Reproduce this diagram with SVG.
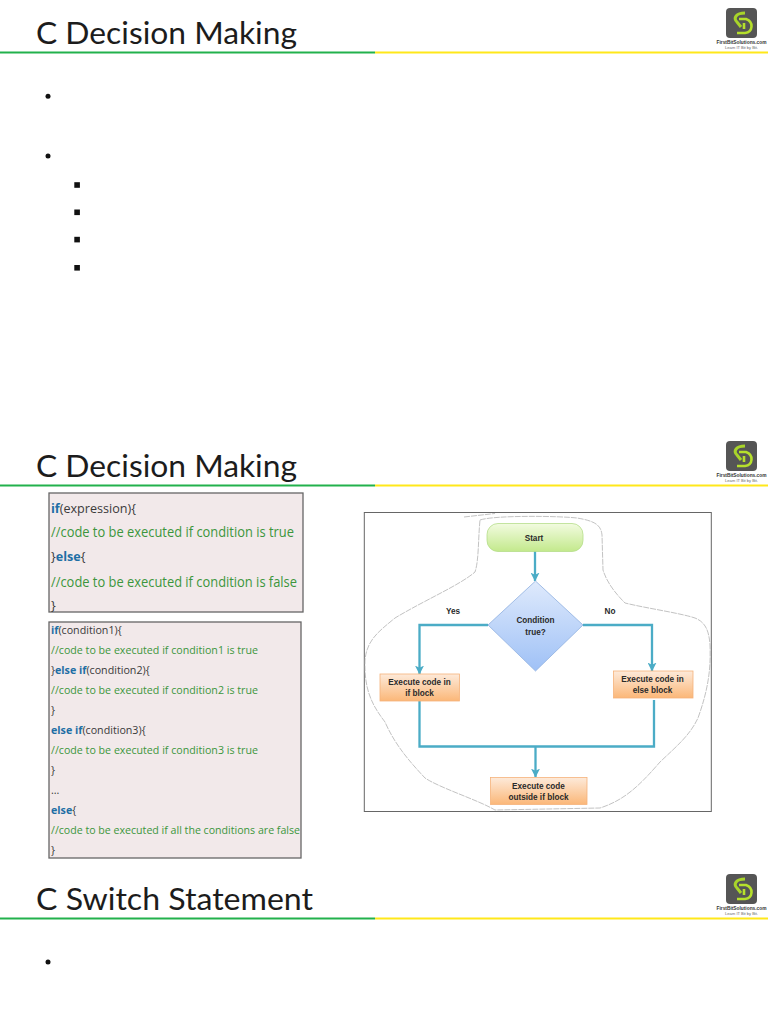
<svg xmlns="http://www.w3.org/2000/svg" xmlns:xlink="http://www.w3.org/1999/xlink" width="768" height="1024" viewBox="0 0 768 1024">
<style>
.title{font-family:"Lato","Open Sans",sans-serif;font-size:31px;fill:#1c1c1c}
.code1,.code2{font-family:"Open Sans","Noto Sans",sans-serif;fill:#3a3a3a}
.code1{font-size:12.6px}
.code2{font-size:10.7px}
.code1.c{font-size:14px}
.code2.c{font-size:11.5px}
.c{fill:#3c963c}
.k{fill:#1f6fa5;font-weight:700}
.box{fill:#f2e9ea;stroke:#666;stroke-width:1.3}
.fl{font-family:"Liberation Sans",Arial,sans-serif;font-size:8.2px;font-weight:700;fill:#2a2a2a;text-anchor:middle}
.wire{fill:none;stroke:#4bacc6;stroke-width:2.3}
.orange{fill:url(#og);stroke:#f5b27a;stroke-width:.8}
.dot{fill:#111}
</style>
<defs>
<linearGradient id="gg" x1="0" y1="0" x2="0" y2="1"><stop offset="0" stop-color="#f2fbe0"/><stop offset="1" stop-color="#c3e98c"/></linearGradient>
<linearGradient id="bg" x1="0" y1="0" x2="0" y2="1"><stop offset="0" stop-color="#dfeafc"/><stop offset="1" stop-color="#9fc1f6"/></linearGradient>
<linearGradient id="og" x1="0" y1="0" x2="0" y2="1"><stop offset="0" stop-color="#fdeada"/><stop offset="1" stop-color="#fbb778"/></linearGradient>
<marker id="arr" viewBox="0 0 8 8" refX="7.5" refY="4" markerWidth="9" markerHeight="9" markerUnits="userSpaceOnUse" orient="auto"><path d="M0,0 L8,4 L0,8 L2,4 Z" fill="#4bacc6"/></marker>
<g id="header">
<rect x="0" y="51.5" width="375" height="2" fill="#22b14c"/>
<rect x="375" y="51.5" width="393" height="2" fill="#ffe81a"/>
<rect x="726" y="8" width="31" height="30" rx="4" fill="#555"/>
<path d="M745,13 C736,13 733,18 737,22 L741,27" fill="none" stroke="#a8d42a" stroke-width="3"/>
<path d="M739,19 L746,19 C754,22 753,32 745,33 L737,33 M744,23 L744,29" fill="none" stroke="#b6e02c" stroke-width="2.6"/>
<text x="741.5" y="43.5" font-family="Liberation Sans,sans-serif" font-size="5.5" font-weight="700" fill="#333" text-anchor="middle" textLength="50" lengthAdjust="spacingAndGlyphs">FirstBitSolutions.com</text>
<text x="741.5" y="49" font-family="Liberation Sans,sans-serif" font-size="4" fill="#666" text-anchor="middle">Learn IT Bit by Bit.</text>
</g>
</defs>

<g id="slide1">
<use xlink:href="#header" href="#header"/>
<text class="title" x="36" y="44" textLength="261" lengthAdjust="spacingAndGlyphs">C Decision Making</text>
<circle class="dot" cx="48" cy="96.3" r="2.5"/>
<circle class="dot" cx="48" cy="156" r="2.5"/>
<rect class="dot" x="74.3" y="182.2" width="5.6" height="5.6"/>
<rect class="dot" x="74.3" y="209.5" width="5.6" height="5.6"/>
<rect class="dot" x="74.3" y="236.8" width="5.6" height="5.6"/>
<rect class="dot" x="74.3" y="265" width="5.6" height="5.6"/>
</g>

<g id="slide2">
<use xlink:href="#header" href="#header" y="433"/>
<text class="title" x="36" y="477" textLength="261" lengthAdjust="spacingAndGlyphs">C Decision Making</text>
</g>

<g id="code-if-else">
<rect class="box" x="49" y="493" width="254" height="119"/>
<text class="code1" x="51" y="512.5"><tspan class="k">if</tspan>(expression){</text>
<text class="code1 c" x="51" y="537" textLength="243" lengthAdjust="spacingAndGlyphs">//code to be executed if condition is true</text>
<text class="code1" x="51" y="561">}<tspan class="k">else</tspan>{</text>
<text class="code1 c" x="51" y="586.5" textLength="246" lengthAdjust="spacingAndGlyphs">//code to be executed if condition is false</text>
<text class="code1" x="51" y="610">}</text>
</g>

<g id="code-else-if">
<rect class="box" x="49" y="622" width="252" height="236"/>
<text class="code2" x="51" y="633.5"><tspan class="k">if</tspan>(condition1){</text>
<text class="code2 c" x="51" y="653.5" textLength="207" lengthAdjust="spacingAndGlyphs">//code to be executed if condition1 is true</text>
<text class="code2" x="51" y="673.5">}<tspan class="k">else if</tspan>(condition2){</text>
<text class="code2 c" x="51" y="693.5" textLength="207" lengthAdjust="spacingAndGlyphs">//code to be executed if condition2 is true</text>
<text class="code2" x="51" y="714">}</text>
<text class="code2" x="51" y="734"><tspan class="k">else if</tspan>(condition3){</text>
<text class="code2 c" x="51" y="754" textLength="207" lengthAdjust="spacingAndGlyphs">//code to be executed if condition3 is true</text>
<text class="code2" x="51" y="774">}</text>
<text class="code2" x="51" y="794" fill="#777">...</text>
<text class="code2" x="51" y="814"><tspan class="k">else</tspan>{</text>
<text class="code2 c" x="51" y="834" textLength="249" lengthAdjust="spacingAndGlyphs">//code to be executed if all the conditions are false</text>
<text class="code2" x="51" y="854">}</text>
</g>

<g id="flow-frame">
<rect x="364.3" y="512.5" width="347" height="299" fill="#fff" stroke="#666" stroke-width="1"/>
<path d="M464,517 L495,513.5 M480,520 C495,515 560,516 577,518 C595,521 601,525 602,535 L603,570 C607,583 616,594 625,603 C645,608 680,613 695,618 C705,622 709,630 710,645 C711,670 708,690 698,718 C690,735 678,745 660,762 C640,785 625,800 600,808 L495,810 C478,800 440,788 425,778 C410,762 395,745 385,722 C372,705 364,690 365,660 C367,640 378,632 395,618 C425,600 460,585 475,572 C479,560 478,540 480,520 Z" fill="none" stroke="#a8a8a8" stroke-width=".7" stroke-dasharray="6 1"/>
</g>

<g id="connectors">
<path class="wire" d="M535,551 L535,581" marker-end="url(#arr)"/>
<path class="wire" d="M488,625 L419.5,625 L419.5,674" marker-end="url(#arr)"/>
<path class="wire" d="M583,625 L652,625 L652,671" marker-end="url(#arr)"/>
<path class="wire" d="M419.5,701 L419.5,746.5 L654,746.5 L654,700"/>
<path class="wire" d="M535.5,746.5 L535.5,777" marker-end="url(#arr)"/>
</g>

<g id="node-start">
<rect x="487" y="523.5" width="96" height="28" rx="11" fill="url(#gg)" stroke="#b5dd8a" stroke-width=".8"/>
<text class="fl" x="534" y="541">Start</text>
</g>
<g id="node-condition">
<path d="M535.5,581 L583,625 L535.5,671 L488,625 Z" fill="url(#bg)" stroke="#8fb0e0" stroke-width=".8"/>
<text class="fl" x="535.5" y="622.5">Condition</text>
<text class="fl" x="535.5" y="634.5">true?</text>
</g>
<g id="label-yes"><text class="fl" x="453" y="614">Yes</text></g>
<g id="label-no"><text class="fl" x="610" y="614">No</text></g>
<g id="node-if-block">
<rect class="orange" x="380" y="674" width="79.5" height="27"/>
<text class="fl" x="419.5" y="685">Execute code in</text>
<text class="fl" x="419.5" y="696">if block</text>
</g>
<g id="node-else-block">
<rect class="orange" x="613.5" y="671" width="79.5" height="27"/>
<text class="fl" x="652.5" y="682">Execute code in</text>
<text class="fl" x="652.5" y="693">else block</text>
</g>
<g id="node-outside">
<rect class="orange" x="490.5" y="777.5" width="96.5" height="27"/>
<text class="fl" x="538.5" y="788.5">Execute code</text>
<text class="fl" x="538.5" y="799.5">outside if block</text>
</g>

<g id="slide3">
<use xlink:href="#header" href="#header" y="866"/>
<text class="title" x="36" y="910" textLength="277" lengthAdjust="spacingAndGlyphs">C Switch Statement</text>
<circle class="dot" cx="48" cy="962" r="2.5"/>
</g>
</svg>
